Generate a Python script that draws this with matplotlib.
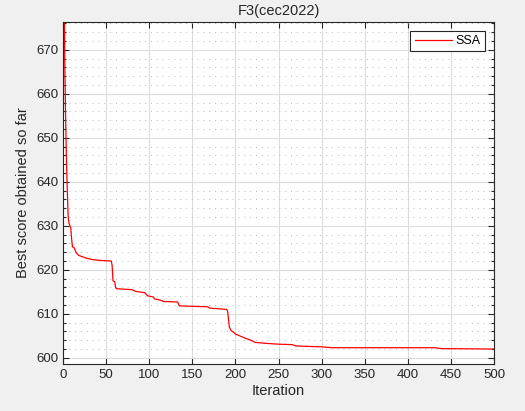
import matplotlib.pyplot as plt
from matplotlib.ticker import MultipleLocator

plt.rcParams['font.family'] = ['Liberation Sans', 'DejaVu Sans']

# breakpoints of the convergence curve
iters = [1, 2, 3, 4, 5, 6, 7, 8, 9, 10, 11, 13, 15, 18, 22, 28, 35, 45, 56, 57, 58,
         60, 61, 62, 80, 84, 95, 98, 105, 106, 115, 116, 133, 135, 168, 170, 190,
         191, 193, 195, 198, 200, 205, 212, 218, 223, 235, 250, 266, 270, 300, 312,
         431, 439, 500]
scores = [700, 668, 655, 645, 638, 632, 630.5, 630, 629.5, 627, 625.2, 625, 624,
          623.3, 623, 622.6, 622.3, 622.1, 622, 621, 617.5, 617.3, 616, 615.7,
          615.5, 615.1, 614.8, 614.1, 613.8, 613.4, 613, 612.8, 612.7, 611.8,
          611.6, 611.3, 611.0, 610.5, 607, 606.2, 605.8, 605.4, 605, 604.4, 604,
          603.5, 603.3, 603.1, 603.0, 602.7, 602.5, 602.3, 602.3, 602.1, 602.0]

fig = plt.figure(figsize=(5.25, 4.11), dpi=100)
fig.patch.set_facecolor('#f0f0f0')
ax = fig.add_axes([63 / 525, 47 / 411, 431 / 525, 342 / 411])
ax.set_facecolor('white')

ax.plot(iters, scores, color='red', linewidth=0.9, label='SSA')

ax.set_xlim(0, 500)
ax.set_ylim(598.6, 676.3)
ax.xaxis.set_major_locator(MultipleLocator(50))
ax.yaxis.set_major_locator(MultipleLocator(10))
ax.yaxis.set_minor_locator(MultipleLocator(2))

ax.grid(True, which='major', color='#dcdcdc', linewidth=0.8)
ax.grid(True, which='minor', axis='y', color='#b8b8b8', linestyle=(0, (1, 5)), linewidth=0.7)
ax.set_axisbelow(True)

ax.tick_params(which='both', direction='in', top=True, right=True, labelsize=9.5,
               colors='#262626', width=0.8)
ax.tick_params(which='major', length=4)
ax.tick_params(which='minor', length=2.5)
for s in ax.spines.values():
    s.set_color('#262626')
    s.set_linewidth(0.8)

ax.set_title('F3(cec2022)', fontsize=10.5, color='#262626', pad=5)
ax.set_xlabel('Iteration', fontsize=10.5, color='#262626', labelpad=2)
ax.set_ylabel('Best score obtained so far', fontsize=10.5, color='#262626', labelpad=4)

leg = ax.legend(loc='upper right', fontsize=9, fancybox=False, framealpha=1,
                edgecolor='#262626', handlelength=3.0, borderaxespad=0.7,
                borderpad=0.35, handletextpad=0.3)
leg.get_frame().set_linewidth(0.8)

fig.savefig('out.png', dpi=100, facecolor=fig.get_facecolor())
